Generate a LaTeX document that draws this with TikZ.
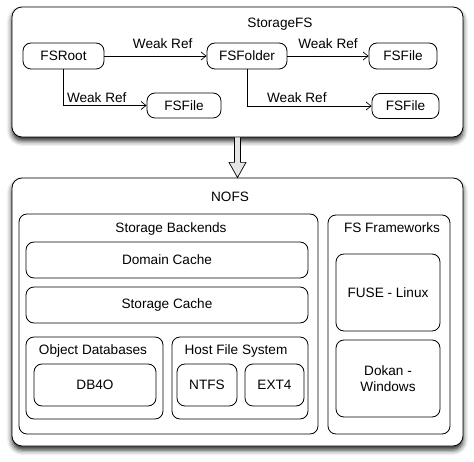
\documentclass[tikz,border=0pt]{standalone}
\usepackage{fontspec}
\setmainfont{Liberation Sans}
\usetikzlibrary{arrows.meta,shadows.blur}

\begin{document}
\begin{tikzpicture}[x=1pt,y=-1pt,font=\fontsize{13.6}{16}\selectfont,
  box/.style={draw,line width=0.8pt,rounded corners=8pt,inner sep=0pt,align=center},
  frame/.style={box,rounded corners=10pt,fill=white,
    blur shadow={shadow xshift=0pt,shadow yshift=-4pt,shadow blur radius=5pt,shadow opacity=85}},
  ref/.style={-{Straight Barb[length=5pt,width=8pt]},line width=0.7pt},
  lbl/.style={inner sep=1pt}]
\useasboundingbox (0,0) rectangle (474,462);
% upper layer
\node[frame,minimum width=451pt,minimum height=130pt] (storagefs) at (237.5,72) {};
\node (storagefstitle) at (280,24) {StorageFS};
\node[box,minimum width=81pt,minimum height=26pt] (root) at (63.5,56) {FSRoot};
\node[box,minimum width=80pt,minimum height=26pt] (folder) at (247,56) {FSFolder};
\node[box,minimum width=68pt,minimum height=26pt] (filea) at (403,56) {FSFile};
\node[box,minimum width=74pt,minimum height=25pt] (fileb) at (184,105.5) {FSFile};
\node[box,minimum width=67pt,minimum height=25pt] (filec) at (405.5,106) {FSFile};
\draw[ref] (root) -- node[lbl,above=6pt,pos=.57] (refa) {Weak Ref} (folder);
\draw[ref] (folder) -- node[lbl,above=6pt] (refb) {Weak Ref} (filea);
\draw[ref] (root.south) |- node[lbl,above=2pt,pos=.7] (refc) {Weak Ref} (fileb);
\draw[ref] (folder.south) |- node[lbl,above=2pt,pos=.7] (refd) {Weak Ref} (filec);
% lower layer
\node[frame,minimum width=451pt,minimum height=268pt] (nofs) at (237.5,312) {};
\node (nofstitle) at (230,197) {NOFS};
\node[box,minimum width=299pt,minimum height=220pt] (backends) at (168.5,324) {};
\node (backendstitle) at (171,229) {Storage Backends};
\node[box,minimum width=282pt,minimum height=36pt] (domain) at (167,260) {Domain Cache};
\node[box,minimum width=282pt,minimum height=36pt] (storage) at (167,305) {Storage Cache};
\node[box,minimum width=137pt,minimum height=82pt] (objdb) at (94.5,378) {};
\node (objdbtitle) at (93,351) {Object Databases};
\node[box,minimum width=122pt,minimum height=42pt] (dbfo) at (95,385) {DB4O};
\node[box,minimum width=136pt,minimum height=82pt] (hostfs) at (240,378) {};
\node (hostfstitle) at (236,351) {Host File System};
\node[box,minimum width=60pt,minimum height=42pt] (ntfs) at (207,385) {NTFS};
\node[box,minimum width=59pt,minimum height=42pt] (ext) at (274.5,385) {EXT4};
\node[box,minimum width=122pt,minimum height=219pt] (frameworks) at (389,324.5) {};
\node (frameworkstitle) at (392,228) {FS Frameworks};
\node[box,minimum width=104pt,minimum height=77pt] (fuse) at (388,292.5) {FUSE - Linux};
\node[box,minimum width=104pt,minimum height=77pt] (dokan) at (388,378.5) {Dokan -\\Windows};
% hollow arrow between the layers
\draw[line width=0.7pt,fill=gray!20,line join=miter]
  ([xshift=-3pt]storagefs.south) -- ([xshift=-3pt,yshift=-25pt]storagefs.south)
  -- ([xshift=-8.5pt,yshift=-25pt]storagefs.south) -- (nofs.north)
  -- ([xshift=8.5pt,yshift=-25pt]storagefs.south) -- ([xshift=3pt,yshift=-25pt]storagefs.south)
  -- ([xshift=3pt]storagefs.south);
\end{tikzpicture}
\end{document}
